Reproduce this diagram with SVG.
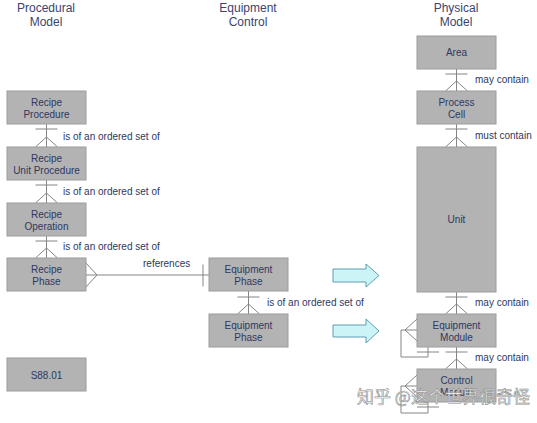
<svg xmlns="http://www.w3.org/2000/svg" width="537" height="423" viewBox="0 0 537 423">
<defs>
<style>
.box{fill:#b3b3b3;stroke:#9c9c9c;stroke-width:1}
.bt{font-family:"Liberation Sans",Arial,sans-serif;font-size:10px;fill:#2e3862;text-anchor:middle}
.hd{font-family:"Liberation Sans",Arial,sans-serif;font-size:12px;fill:#3a4470;text-anchor:middle}
.lb{font-family:"Liberation Sans",Arial,sans-serif;font-size:10px;fill:#2e3862}
.ln{fill:none;stroke:#858585;stroke-width:1}
.ar{fill:#ccf4f7;stroke:#5e9fb0;stroke-width:1}
.wm{font-family:"Noto Sans CJK SC","Liberation Sans",sans-serif;font-size:17px;fill:#ffffff;stroke:#8c8c8c;stroke-width:0.6}
</style>
</defs>
<rect width="537" height="423" fill="#ffffff"/>

<g id="headers">
<text class="hd" x="46" y="11.5">Procedural</text>
<text class="hd" x="46" y="26">Model</text>
<text class="hd" x="248" y="11.5">Equipment</text>
<text class="hd" x="248" y="26">Control</text>
<text class="hd" x="456" y="11.5">Physical</text>
<text class="hd" x="456" y="26">Model</text>
</g>

<g id="connectors">
<!-- left column -->
<path class="ln" d="M46.5,124 V147 M35.5,129 H57.5 M35.5,147 L46.5,137 L57.5,147"/>
<path class="ln" d="M46.5,180 V203 M35.5,185 H57.5 M35.5,203 L46.5,193 L57.5,203"/>
<path class="ln" d="M46.5,236 V258 M35.5,241 H57.5 M35.5,258 L46.5,248 L57.5,258"/>
<!-- references -->
<path class="ln" d="M86,275 H209 M203,264.5 V286.5 M86,263 L97,275 L86,287"/>
<!-- equipment phase -->
<path class="ln" d="M248.5,291 V314 M237.5,297 H259.5 M237.5,314 L248.5,304 L259.5,314"/>
<!-- physical -->
<path class="ln" d="M456.5,69 V91 M445.5,74 H467.5 M445.5,91 L456.5,81 L467.5,91"/>
<path class="ln" d="M456.5,124 V147 M445.5,129 H467.5 M445.5,147 L456.5,137 L467.5,147"/>
<path class="ln" d="M456.5,292 V314 M445.5,297 H467.5 M445.5,314 L456.5,304 L467.5,314"/>
<path class="ln" d="M456.5,347 V369 M445.5,352 H467.5 M445.5,369 L456.5,359 L467.5,369"/>
<!-- self loops -->
<path class="ln" d="M417,330 H401 V357 H428 V347 M417,352 H439 M417,319 L405,330 L417,341"/>
<path class="ln" d="M417,386 H401 V413 H428 V402 M417,407 H439 M417,375 L405,386 L417,397"/>
<!-- block arrows -->
<path class="ar" d="M333,269 H366 V264 L379,275.5 L366,287 V282 H333 Z"/>
<path class="ar" d="M333,325 H366 V319 L379,331 L366,343 V337 H333 Z"/>
<!-- labels -->
<text class="lb" x="63" y="139.5">is of an ordered set of</text>
<text class="lb" x="63" y="194.5">is of an ordered set of</text>
<text class="lb" x="63" y="250">is of an ordered set of</text>
<text class="lb" x="143" y="266.5">references</text>
<text class="lb" x="267" y="305.5">is of an ordered set of</text>
<text class="lb" x="475" y="83">may contain</text>
<text class="lb" x="475" y="138.5">must contain</text>
<text class="lb" x="475" y="305.5">may contain</text>
<text class="lb" x="475" y="361">may contain</text>
</g>

<g id="recipe-procedure"><rect class="box" x="7" y="91" width="79" height="33"/><text class="bt" x="46.5" y="106">Recipe</text><text class="bt" x="46.5" y="118">Procedure</text></g>
<g id="recipe-unit-procedure"><rect class="box" x="7" y="147" width="79" height="33"/><text class="bt" x="46.5" y="162">Recipe</text><text class="bt" x="46.5" y="174">Unit Procedure</text></g>
<g id="recipe-operation"><rect class="box" x="7" y="203" width="79" height="33"/><text class="bt" x="46.5" y="218">Recipe</text><text class="bt" x="46.5" y="230">Operation</text></g>
<g id="recipe-phase"><rect class="box" x="7" y="258" width="79" height="33"/><text class="bt" x="46.5" y="273">Recipe</text><text class="bt" x="46.5" y="285">Phase</text></g>
<g id="s88"><rect class="box" x="7" y="358" width="79" height="33"/><text class="bt" x="46.5" y="378.5">S88.01</text></g>
<g id="equipment-phase-1"><rect class="box" x="209" y="258" width="79" height="33"/><text class="bt" x="248.5" y="273">Equipment</text><text class="bt" x="248.5" y="285">Phase</text></g>
<g id="equipment-phase-2"><rect class="box" x="209" y="314" width="79" height="33"/><text class="bt" x="248.5" y="329">Equipment</text><text class="bt" x="248.5" y="341">Phase</text></g>
<g id="area"><rect class="box" x="417" y="36" width="79" height="33"/><text class="bt" x="456.5" y="56">Area</text></g>
<g id="process-cell"><rect class="box" x="417" y="91" width="79" height="33"/><text class="bt" x="456.5" y="106">Process</text><text class="bt" x="456.5" y="118">Cell</text></g>
<g id="unit"><rect class="box" x="417" y="147" width="79" height="145"/><text class="bt" x="456.5" y="223">Unit</text></g>
<g id="equipment-module"><rect class="box" x="417" y="314" width="79" height="33"/><text class="bt" x="456.5" y="329">Equipment</text><text class="bt" x="456.5" y="341">Module</text></g>
<g id="control-module"><rect class="box" x="417" y="369" width="79" height="33"/><text class="bt" x="456.5" y="384">Control</text><text class="bt" x="456.5" y="396">Module</text></g>

<text class="wm" x="357" y="403">知乎 @这个世界很奇怪</text>
</svg>
